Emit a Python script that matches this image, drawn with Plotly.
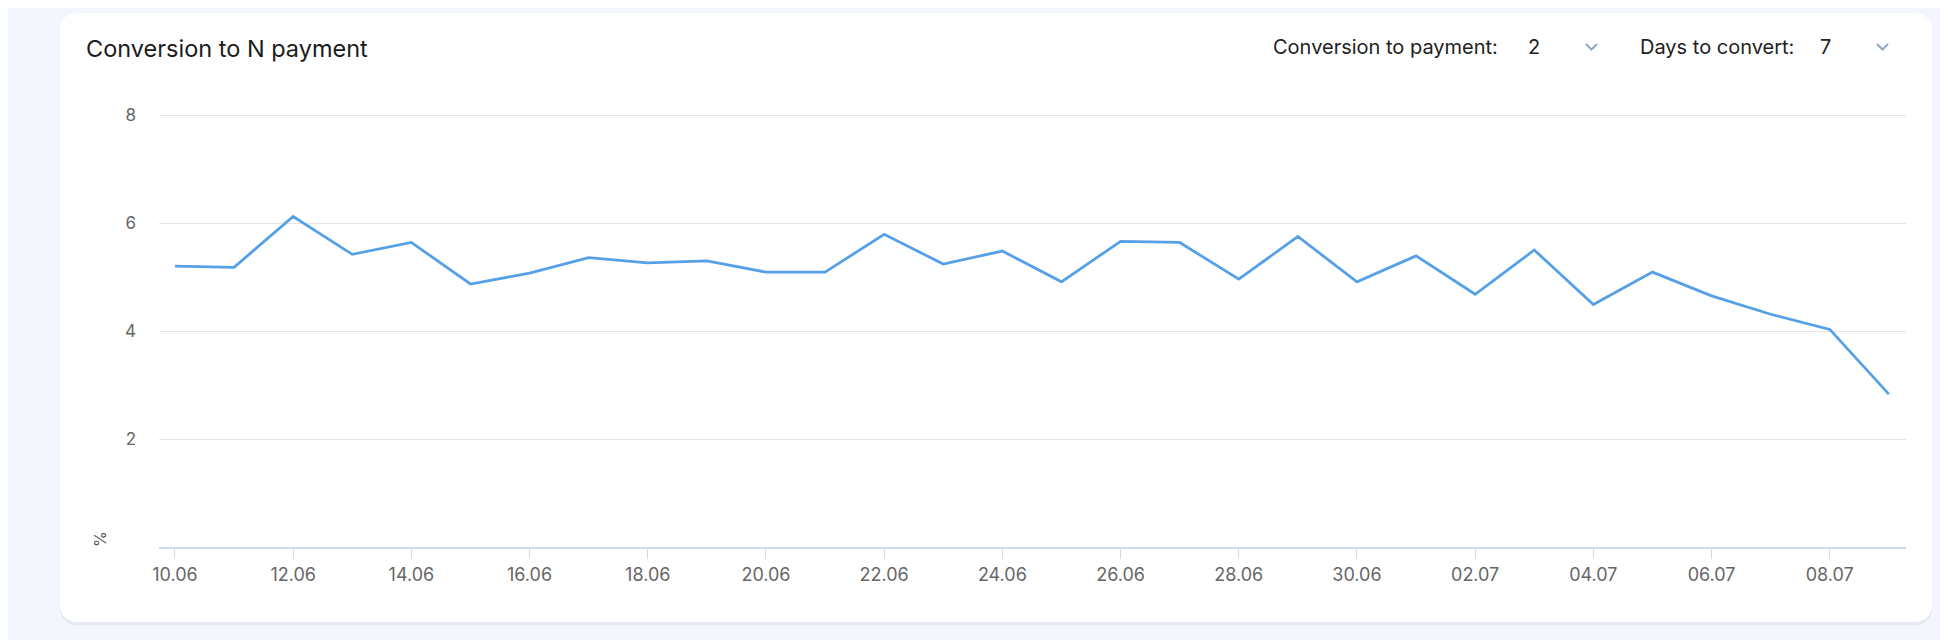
import plotly.graph_objects as go

# ---- data ----
dates = ["10.06", "11.06", "12.06", "13.06", "14.06", "15.06", "16.06", "17.06",
         "18.06", "19.06", "20.06", "21.06", "22.06", "23.06", "24.06", "25.06",
         "26.06", "27.06", "28.06", "29.06", "30.06", "01.07", "02.07", "03.07",
         "04.07", "05.07", "06.07", "07.07", "08.07", "09.07"]
conversion = [5.20, 5.18, 6.12, 5.42, 5.64, 4.87, 5.07, 5.36,
              5.26, 5.30, 5.09, 5.09, 5.79, 5.24, 5.48, 4.91,
              5.66, 5.64, 4.96, 5.75, 4.91, 5.39, 4.68, 5.50,
              4.49, 5.09, 4.65, 4.31, 4.03, 2.83]
y_ticks = [2, 4, 6, 8]
x_ticks = dates[::2]

title_text = "Conversion to N payment"
filter1_label, filter1_value = "Conversion to payment:", "2"
filter2_label, filter2_value = "Days to convert:", "7"
y_unit = "%"

# ---- geometry helpers ----
# The page body has an 8px margin, so the figure is 8px smaller and all
# intended window-pixel positions are shifted by OFF.
OFF = 8
W, H = 1948 - OFF, 640 - OFF
def fx(p):
    return (p - OFF) / W
def fy(p):
    return 1 - (p - OFF) / H

def rounded_rect(x0, y0, x1, y1, r):
    k = 0.4477
    X0, X1 = fx(x0), fx(x1)
    Y0, Y1 = fy(y0), fy(y1)
    rx, ry = r / W, r / H
    return (f"M {X0+rx},{Y0} L {X1-rx},{Y0} "
            f"C {X1-rx*k},{Y0} {X1},{Y0-ry+ry*k} {X1},{Y0-ry} "
            f"L {X1},{Y1+ry} "
            f"C {X1},{Y1+ry*k} {X1-rx*k},{Y1} {X1-rx},{Y1} "
            f"L {X0+rx},{Y1} "
            f"C {X0+rx*k},{Y1} {X0},{Y1+ry*k} {X0},{Y1+ry} "
            f"L {X0},{Y0-ry} "
            f"C {X0},{Y0-ry*k} {X0+rx*k},{Y0} {X0+rx},{Y0} Z")

FONT = "Inter"
BG = "#f3f6fd"

fig = go.Figure()
fig.add_trace(go.Scatter(
    x=dates, y=conversion, mode="lines",
    line=dict(color="#56a0e7", width=2.8),
    hovertemplate="%{x}: %{y:.2f}%<extra></extra>",
    showlegend=False,
))

shapes = [
    dict(type="path", xref="paper", yref="paper", layer="below",
         path=rounded_rect(60, 15, 1932, 625, 16),
         fillcolor="#e5e9f2", line=dict(width=0)),
    dict(type="path", xref="paper", yref="paper", layer="below",
         path=rounded_rect(60, 13, 1932, 622, 16),
         fillcolor="#ffffff", line=dict(width=0)),
]
for cx in (1586, 1877):
    shapes.append(dict(
        type="path", xref="paper", yref="paper", layer="above",
        path=f"M {fx(cx)},{fy(44)} L {fx(cx+5.5)},{fy(49.5)} L {fx(cx+11)},{fy(44)}",
        line=dict(color="#8fa8c4", width=2)))

def label(text, x, y, size, color, **kw):
    d = dict(text=text, x=fx(x), y=fy(y), xref="paper", yref="paper",
             xanchor="left", yanchor="middle", showarrow=False,
             font=dict(family=FONT, size=size, color=color))
    d.update(kw)
    return d

annotations = [
    label(title_text, 84, 48, 23.5, "#1b1b1b"),
    label(filter1_label, 1271, 47, 20, "#222222"),
    label(filter1_value, 1526, 47, 20, "#222222"),
    label(filter2_label, 1638, 47, 20, "#222222"),
    label(filter2_value, 1818, 47, 20, "#222222"),
    label(y_unit, 100, 539, 16, "#555555", xanchor="center", textangle=-90),
]

# y: value 0 at window y=547, value 8 at y=115 (54 px per unit); the range
# extends a little above 8 so that the top grid line is drawn.
Y_TOP = 8.12
fig.update_layout(
    width=W, height=H,
    margin=dict(l=0, r=0, t=0, b=0, autoexpand=False),
    paper_bgcolor=BG, plot_bgcolor="rgba(0,0,0,0)",
    shapes=shapes, annotations=annotations,
    font=dict(family=FONT),
    xaxis=dict(
        domain=[fx(159), fx(1906)],
        type="category", range=[-0.27, len(dates) - 1 + 0.29],
        tickvals=x_ticks, ticktext=x_ticks,
        showgrid=False, zeroline=False, automargin=False,
        showline=True, linecolor="#cfd9ee", linewidth=2,
        ticks="outside", ticklen=10, tickcolor="#cfd9ee", tickwidth=1,
        tickfont=dict(family=FONT, size=18, color="#666666"),
        fixedrange=True,
    ),
    yaxis=dict(
        domain=[fy(547), fy(547 - 54 * Y_TOP)],
        range=[0, Y_TOP], tickvals=y_ticks,
        showgrid=True, gridcolor="#e6e6e6", gridwidth=1,
        zeroline=False, showline=False, ticks="", automargin=False,
        ticklabelstandoff=22,
        tickfont=dict(family=FONT, size=17, color="#666666"),
        fixedrange=True,
    ),
)

fig.write_html("out.html")
